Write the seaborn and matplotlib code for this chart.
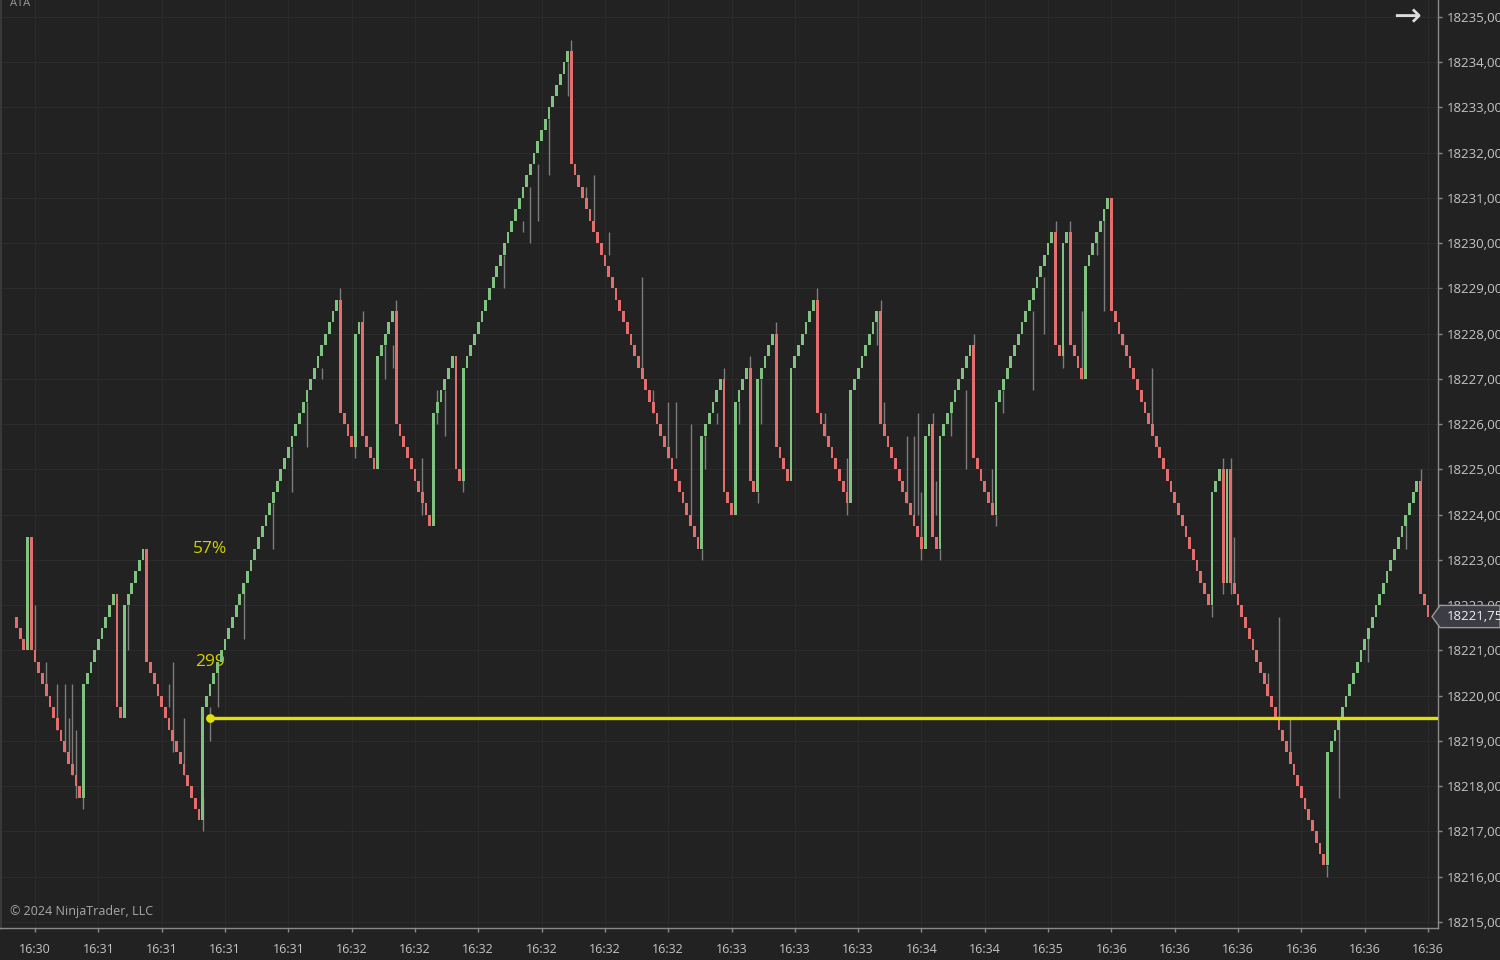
import numpy as np
import pandas as pd
import matplotlib
matplotlib.use("Agg")
import matplotlib.pyplot as plt
import matplotlib.transforms as mtransforms
from matplotlib.patches import Polygon
import seaborn as sns

# ---------------- data ----------------
start_price = 18221.75          # open of the first bar
brick_size = 0.25               # trend brick
reversal_size = 2.5             # reversal brick
# close price at the end of every leg (renko swing extremes)
leg_end_prices = [18221.0, 18223.5, 18217.75, 18222.25, 18219.5, 18223.25, 18217.25,
                  18228.75, 18225.5, 18228.25, 18225.0, 18228.5, 18223.75, 18227.5,
                  18224.75, 18234.25, 18223.25, 18227.0, 18224.0, 18227.25, 18224.5,
                  18228.0, 18224.75, 18228.75, 18224.25, 18228.5, 18223.25, 18226.0,
                  18223.25, 18227.75, 18224.0, 18230.25, 18227.5, 18230.25, 18227.0,
                  18231.0, 18222.0, 18225.0, 18222.5, 18225.0, 18216.25, 18224.75,
                  18221.75]

wick_bar = [5, 8, 11, 13, 14, 15, 16, 18, 30, 41, 42, 45, 50, 52, 54, 61, 69, 74, 78, 82,
            87, 91, 93, 99, 101, 102, 109, 113, 115, 120, 131, 136, 138, 140, 143, 148,
            149, 153, 155, 159, 168, 171, 175, 177, 181, 184, 185, 188, 190, 194, 197,
            199, 200, 204, 215, 217, 223, 231, 232, 233, 239, 241, 242, 243, 246, 247,
            248, 251, 255, 257, 262, 263, 265, 273, 276, 279, 281, 283, 286, 290, 292,
            297, 305, 321, 324, 326, 327, 336, 339, 342, 346, 352, 355, 363, 373, 377]
wick_high = [18222.0, 18220.75, 18220.25, 18220.25, 18219.5, 18220.25, 18219.25, 18218.25,
             18222.0, 18220.25, 18220.75, 18219.5, 18217.75, 18219.75, 18220.75, 18222.5,
             18224.25, 18225.5, 18226.5, 18227.25, 18229.0, 18228.0, 18228.5, 18227.75,
             18227.75, 18228.75, 18225.25, 18226.75, 18226.75, 18227.25, 18229.75, 18230.5,
             18231.25, 18231.75, 18232.75, 18234.0, 18234.5, 18231.25, 18231.5, 18230.25,
             18229.25, 18226.75, 18226.5, 18226.5, 18226.0, 18223.25, 18225.75, 18226.25,
             18227.25, 18226.5, 18227.5, 18224.5, 18227.0, 18228.25, 18229.0, 18226.25,
             18225.25, 18228.5, 18228.75, 18226.5, 18225.75, 18225.75, 18226.25, 18224.5,
             18226.25, 18224.75, 18223.25, 18226.5, 18226.75, 18228.0, 18225.0, 18224.0,
             18226.75, 18228.5, 18229.25, 18230.5, 18227.75, 18230.5, 18228.5, 18230.25,
             18230.75, 18228.0, 18227.25, 18222.0, 18225.25, 18225.25, 18223.5, 18220.5,
             18221.75, 18219.5, 18217.75, 18216.25, 18219.5, 18221.5, 18224.0, 18225.0]
wick_low = [18221.0, 18220.0, 18219.25, 18218.75, 18218.75, 18218.25, 18217.75, 18217.5,
            18221.0, 18219.75, 18218.75, 18218.25, 18217.0, 18219.0, 18219.75, 18221.25,
            18223.25, 18224.5, 18225.5, 18227.0, 18228.75, 18225.25, 18228.25, 18227.0,
            18227.25, 18228.5, 18224.0, 18226.0, 18225.75, 18224.5, 18229.0, 18230.25,
            18230.0, 18230.5, 18231.5, 18233.25, 18234.25, 18231.0, 18230.5, 18229.75,
            18227.25, 18226.25, 18225.25, 18225.25, 18224.0, 18223.0, 18225.0, 18226.0,
            18227.0, 18226.0, 18227.25, 18224.25, 18226.0, 18228.0, 18228.75, 18225.75,
            18224.0, 18227.75, 18228.5, 18226.0, 18224.25, 18224.0, 18224.0, 18223.0,
            18226.0, 18224.0, 18223.0, 18225.75, 18225.0, 18227.75, 18224.0, 18223.75,
            18226.25, 18226.75, 18228.0, 18230.25, 18227.25, 18230.25, 18227.0, 18229.75,
            18228.5, 18227.75, 18226.0, 18221.75, 18222.25, 18222.25, 18222.5, 18220.0,
            18219.5, 18218.75, 18217.5, 18216.0, 18217.75, 18220.75, 18223.25, 18224.75]

time_labels = ["16:30", "16:31", "16:31", "16:31", "16:31", "16:32", "16:32", "16:32",
               "16:32", "16:32", "16:32", "16:33", "16:33", "16:33", "16:34", "16:34",
               "16:35", "16:36", "16:36", "16:36", "16:36", "16:36", "16:36"]
first_label_bar = 5
label_every = 17

price_ticks = list(range(18215, 18236))
level_price = 18219.5
level_start_bar = 52
pct_text, pct_price = "57%", 18223.25
count_text, count_price = "299", 18220.75
last_price = 18221.75

# ---------------- build renko bars from the legs ----------------
opens, closes = [], []
price = start_price
for k, end in enumerate(leg_end_prices):
    d = 1 if end > price else -1
    if k > 0:
        opens.append(price)
        price += d * reversal_size
        closes.append(price)
    n = int(round(abs(end - price) / brick_size))
    for _ in range(n):
        opens.append(price)
        price += d * brick_size
        closes.append(price)

bars = pd.DataFrame({"bar": np.arange(len(opens)), "open": opens, "close": closes})
bars["up"] = bars["close"] > bars["open"]

# ---------------- style ----------------
BG = "#222222"
GREEN = "#80c280"
RED = "#e46e6e"
WICK = "#7c7c7c"
AXIS = "#8a8a8a"
TXT = "#c4c4c4"
YEL = "#e2e000"

sns.set_theme(style="dark", rc={"axes.facecolor": BG, "figure.facecolor": BG})
plt.rcParams["font.family"] = ["Open Sans", "DejaVu Sans"]

W, H = 1500, 960
fig = plt.figure(figsize=(W / 100, H / 100), dpi=100)
ax = fig.add_axes([0, 32 / H, 1438 / W, 928 / H])
ax.set_facecolor(BG)

px_per_bar = 3.7246
x0 = 16.4
ax.set_xlim(-x0 / px_per_bar, (1438 - x0) / px_per_bar)
top_price = 18235.375
ax.set_ylim(top_price - 928 / 45.25, top_price)

# grid
for p in price_ticks:
    ax.axhline(p, color="#2b2b2b", lw=0.8, zorder=0)
xt = list(range(first_label_bar, len(bars), label_every))
for t in xt:
    ax.axvline(t, color="#2a2a2a", lw=0.8, zorder=0)

# wicks & bodies
ax.vlines(wick_bar, wick_low, wick_high, color=WICK, lw=1.0, zorder=2)
ax.bar(bars["bar"], bars["close"] - bars["open"], bottom=bars["open"], width=0.74,
       color=np.where(bars["up"], GREEN, RED), linewidth=0, zorder=3)

# yellow level & labels
ax.text(level_start_bar, pct_price, pct_text, color="#d2d000", fontsize=12.5,
        ha="center", va="center", zorder=1)
ax.text(level_start_bar, count_price, count_text, color="#d2d000", fontsize=12.5,
        ha="center", va="center", zorder=1)
ax.hlines(level_price, level_start_bar, ax.get_xlim()[1], color=YEL, lw=2.4, zorder=5)
sns.scatterplot(x=[level_start_bar], y=[level_price], color=YEL, s=40, linewidth=0,
                zorder=6, ax=ax, legend=False)

# axes / ticks
ax.spines["top"].set_visible(False)
ax.spines["left"].set_color("#3a3a3a")
ax.spines["left"].set_linewidth(2)
for s in ["right", "bottom"]:
    ax.spines[s].set_visible(True)
    ax.spines[s].set_color(AXIS)
    ax.spines[s].set_linewidth(1)

ax.yaxis.tick_right()
ax.set_yticks(price_ticks)
ax.set_yticklabels([f"{p:.2f}".replace(".", ",") for p in price_ticks])
ax.set_xticks(xt)
ax.set_xticklabels(time_labels[:len(xt)])
ax.tick_params(axis="y", which="both", right=True, left=False, length=3, width=1,
               color=AXIS, labelcolor=TXT, labelsize=9.5, pad=3.5)
ax.tick_params(axis="x", which="both", bottom=True, length=3, width=1, color=AXIS,
               labelcolor=TXT, labelsize=9, pad=8)
ax.set_xlabel("")
ax.set_ylabel("")
ax.grid(False)

# current price marker on the axis
blend = mtransforms.blended_transform_factory(fig.transFigure, ax.transData)
hh = 0.245
poly = Polygon([(1432 / W, last_price), (1440 / W, last_price + hh), (1.0, last_price + hh),
                (1.0, last_price - hh), (1440 / W, last_price - hh)], closed=True,
               facecolor="#3b3c44", edgecolor="#9a9a9a", lw=1, transform=blend,
               clip_on=False, zorder=20)
ax.add_patch(poly)
ax.text(1447 / W, last_price, f"{last_price:.2f}".replace(".", ","), transform=blend,
        color="#f0f0f0", fontsize=9.5, va="center", ha="left", clip_on=False, zorder=21)

# decorations
fig.text(1407 / W, 1 - 17 / H, "\u2192", color="#dcdcdc", fontsize=24,
         ha="center", va="center", family=["DejaVu Sans"])
fig.text(10 / W, 1 - 912 / H, "\u00a9 2024 NinjaTrader, LLC", color="#a8a8a8",
         fontsize=9, ha="left", va="center")
fig.text(10 / W, 1 - 4 / H, "ATA", color="#9a9a9a", fontsize=8, ha="left", va="center")

fig.savefig("out.png", dpi=100, facecolor=BG)
